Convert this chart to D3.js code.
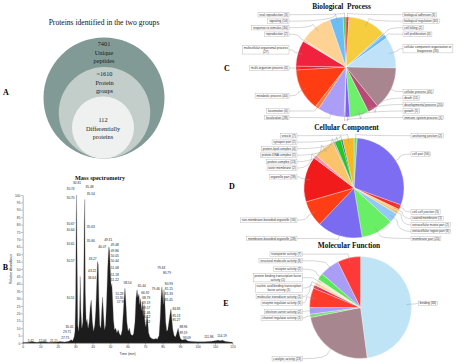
<!DOCTYPE html>
<html>
<head>
<meta charset="utf-8">
<script src="https://cdn.jsdelivr.net/npm/d3@7"></script>
<style>
  body { margin: 0; background: #fff; }
  svg { display: block; }
</style>
</head>
<body>
<script>
// ---------- data ----------
const vennCounts = ["7401", "~1610", "112"];
const vennNames = [["Unique", "peptides"], ["Protein", "groups"], ["Differentially", "proteins"]];

// chromatogram trace: [time (min), relative abundance]
const msTrace = [
  [0,0.4],[3,0.5],[5.4,0.9],[8,0.5],[12,0.9],[15,0.5],[20,0.6],[21.1,1],[24,0.7],[26.5,1.2],
  [27.7,2.2],[28.6,1.5],[29.4,4],[29.9,8],[30.3,30],[30.6,85],[30.8,100],[31.1,60],[31.5,12],[32,8],
  [32.5,18],[32.9,45],[33.3,22],[33.8,10],[34.4,14],[34.9,40],[35.2,80],[35.5,97],[35.8,35],[36.3,14],
  [36.8,16],[37.4,10],[38,14],[38.6,24],[39.2,29],[39.8,15],[40.5,8],[41.2,12],[41.8,22],[42.4,42],
  [42.8,55],[43.2,53],[43.6,28],[44.1,12],[44.7,10],[45.2,22],[45.7,31],[46.2,20],[46.8,9],[47.4,12],
  [48,28],[48.6,50],[49,60],[49.3,65],[49.7,62],[50.1,50],[50.6,38],[51,40],[51.4,30],[51.9,16],
  [52.5,9],[53.2,10],[53.9,7],[54.6,9],[55.4,6],[56.2,5],[56.9,9],[57.5,20],[58,30],[58.5,37],
  [59,28],[59.6,14],[60.3,8],[61,10],[61.8,6],[62.6,5],[63.4,6],[64.2,14],[64.8,30],[65.4,36],
  [65.9,31],[66.5,33],[66.9,26],[67.4,30],[67.9,22],[68.4,28],[68.9,18],[69.4,26],[69.9,14],[70.5,11],
  [71.1,19],[71.5,15],[72,7],[72.8,4],[73.8,3],[75,2.5],[76.1,3],[77,2.5],[78,5],[78.6,16],
  [79.1,30],[79.6,38],[80,33],[80.4,26],[80.8,36],[81.3,28],[81.8,14],[82.4,8],[83,9],[83.6,14],
  [84.2,19],[84.8,23],[85.3,16],[85.9,9],[86.6,5],[87.4,4],[88.2,7],[88.9,10],[89.5,6],[90.2,3],
  [91.2,2],[93,2.6],[94.5,1.4],[97,1],[100,0.8],[104,0.9],[108,1.1],[111.9,1.8],[113,1.5],[114.2,1.9],
  [116,1],[120,0.5]
];

// peak labels: [text, time anchor, abundance anchor]
const peakLabels = [
  ["30.81",31.1,108],["30.74",27.4,104],["30.70",27.4,98],["30.67",27.4,80.4],["30.64",27.4,76.4],
  ["30.61",27.4,66.9],["30.57",27.4,55.4],["30.51",27.4,30.4],["30.41",26.8,10.8],["29.71",25.4,7.4],
  ["27.75",24.3,3.4],["21.11",17.8,1.4],["12.06",11.4,1.4],["5.42",4.6,1.4],
  ["35.48",38.2,105.4],["35.54",38.9,100.7],["35.63",38.9,78.4],["35.66",38.9,68.9],
  ["43.27",40,56.8],["43.22",39.7,48.6],["36.64",39.6,43.9],["46.07",45.5,64.9],["49.31",48.9,69.6],
  ["49.48",52.7,66.2],["49.86",52.7,62.2],["50.05",52.7,58.8],["50.44",52.7,55.4],["51.08",52.7,50.7],
  ["51.18",52.7,45.9],["51.22",52.7,42.6],["51.28",55.3,33.1],["51.30",55.3,30.4],["57.99",56.2,27.7],
  ["58.54",59.9,40.5],["65.44",68.1,38.5],["66.92",70.1,33.8],["68.79",70.7,30.4],["69.19",70.7,27],
  ["69.57",70.7,23.6],["71.46",70.7,20.3],["76.12",70.7,17.6],["71.62",70.7,14.2],
  ["79.46",76.1,36.5],["79.63",79.3,50.7],["80.79",82.5,47.3],["80.93",83.6,39.9],["81.15",83.6,36.5],
  ["81.33",83.6,33.1],["81.45",83.6,29.1],["84.83",87.9,23],["85.13",87.9,18.2],["85.27",87.9,15.5],
  ["88.96",91.9,10.8],["89.19",91.9,6.8],["93.09",93.9,3.4],["111.86",106.5,4.1],["114.19",114,4.7]
];
const timeTicks = [0,10,20,30,40,50,60,70,80,90,100,110,120];
const abundTicks = [0,5,10,15,20,25,30,35,40,45,50,55,60,65,70,75,80,85,90,95,100];

const bpNames = ["biological adhesion","biological regulation","cell killing","cell proliferation",
  "cellular component organization or biogenesis","cellular process","death","developmental process",
  "growth","immune system process","localization","locomotion","metabolic process",
  "multi-organism process","multicellular organismal process","reproduction","response to stimulus",
  "signaling","viral reproduction"];
const bpValues = [3,40,2,4,33,45,11,20,5,1,28,4,44,4,27,2,34,14,3];

const ccNames = ["anchoring junction","cell part","cell-cell junction","coated membrane",
  "extracellular matrix part","extracellular region part","membrane part","membrane-bounded organelle",
  "non-membrane-bounded organelle","organelle part","outer membrane","protein complex",
  "protein-DNA complex","protein-lipid complex","synapse part","vesicle"];
const ccValues = [2,56,3,1,2,6,20,28,16,28,2,13,1,4,1,7];

const mfNames = ["binding","catalytic activity","channel regulator activity","electron carrier activity",
  "enzyme regulator activity","molecular transducer activity",
  "nucleic acid binding transcription factor activity","protein binding transcription factor activity",
  "receptor activity","structural molecule activity","transporter activity"];
const mfValues = [46,23,1,2,6,1,1,1,2,6,7];

// ---------- styles ----------
const bpColors = ["#ec2a2a","#f6cd3e","#8fcaf2","#6cb8f2","#bfe2f8","#a8858f","#b74a76","#6ef06c",
  "#7a5ff0","#b3a3f5","#aa9ef6","#ff7a3a","#ff3c12","#ff1c1c","#f0223e","#ffd9a6","#fdd292","#6dbdf5","#56cf56"];
const ccColors = ["#80e080","#7c6df2","#f03030","#ffb347","#f7c87a","#92c9f7","#68ef66","#7a6bf0",
  "#ff3e16","#f21b1b","#ff90b2","#fbc46c","#aaaaaa","#20c820","#1f4c9e","#f7b824"];
const mfColors = ["#bfe4f6","#a8868f","#7ddf7d","#a99df5","#ff3c2c","#e0305a","#ffd7a0","#f3ecd8",
  "#58e858","#a99df5","#ff3838"];

const serif = "'Liberation Serif', 'Times New Roman', serif";
const sans = "'Liberation Sans', Arial, sans-serif";

const svg = d3.select("body").append("svg")
  .attr("width", 474).attr("height", 363)
  .style("font-family", sans);

// panel letters
const panelLetters = ["A","B","C","D","E"];
const letterPos = [[6,95],[5.5,270],[227,71],[232,189],[226,306]];
panelLetters.forEach((l,i) => {
  svg.append("text").attr("x", letterPos[i][0]).attr("y", letterPos[i][1])
    .attr("text-anchor","middle").attr("font-family", serif).attr("font-weight","bold")
    .attr("font-size", 8).text(l);
});

// ---------- A: nested circles ----------
svg.append("text").attr("x", 104).attr("y", 25).attr("text-anchor","middle")
  .attr("font-family", serif).attr("font-size", 7.6).attr("fill","#111")
  .text("Proteins identified in the two groups");

const rScale = d3.scaleLinear().domain([0, 2]).range([60.5, 31]);
const vennColors = ["#819a95", "#c3cdca", "#eff1f0"];
const vennX = [104, 104.5, 103];
const vennBottom = 158.5;
vennCounts.forEach((c, i) => {
  svg.append("circle").attr("cx", vennX[i]).attr("cy", vennBottom - rScale(i))
    .attr("r", rScale(i)).attr("fill", vennColors[i]);
});
vennCounts.forEach((c, i) => {
  const top = vennBottom - 2 * rScale(i);
  const mid = i < vennCounts.length - 1 ? (top + vennBottom - 2 * rScale(i + 1)) / 2 : vennBottom - rScale(i) + 0.5;
  const lines = [c].concat(vennNames[i]);
  const offs = [-8.5, 0.5, 8.7];
  lines.forEach((t, k) => {
    svg.append("text").attr("x", vennX[i]).attr("y", mid + offs[k])
      .attr("text-anchor","middle").attr("dominant-baseline","central")
      .attr("font-family", serif).attr("font-size", 6.3).attr("fill","#1a1a1a").text(t);
  });
});

// ---------- B: mass spectrometry ----------
svg.append("text").attr("x", 100).attr("y", 180).attr("text-anchor","middle")
  .attr("font-family", serif).attr("font-weight","bold").attr("font-size", 6.2).attr("fill","#111")
  .text("Mass spectrometry");

const x = d3.scaleLinear().domain([0, 120]).range([22.7, 232.5]);
const y = d3.scaleLinear().domain([0, 100]).range([343, 195]);

svg.append("path").datum(msTrace)
  .attr("d", d3.area().x(d => x(d[0])).y0(y(0)).y1(d => y(d[1])))
  .attr("fill", "#1c1c1c").attr("stroke", "#666").attr("stroke-width", 0.3);

function styleAxis(g) {
  g.attr("font-size", 3.2).attr("font-family", sans);
  g.selectAll("path, line").attr("stroke", "#444").attr("stroke-width", 0.4);
  g.selectAll("text").attr("fill", "#333");
}
svg.append("g").attr("transform", `translate(0,${y(0)})`)
  .call(d3.axisBottom(x).tickValues(timeTicks).tickSize(1.8).tickPadding(1.2).tickSizeOuter(0))
  .call(styleAxis);
svg.append("g").attr("transform", `translate(${x(0)},0)`)
  .call(d3.axisLeft(y).tickValues(abundTicks).tickSize(1.5).tickPadding(0.8).tickSizeOuter(0))
  .call(styleAxis);

svg.append("text").attr("x", x(60)).attr("y", 355).attr("text-anchor","middle")
  .attr("font-size", 3.4).attr("fill","#333").text("Time (min)");
svg.append("text").attr("transform", `translate(12,${y(50)}) rotate(-90)`).attr("text-anchor","middle")
  .attr("font-size", 3.4).attr("fill","#333").text("Relative Abundance");

svg.append("g").selectAll("text").data(peakLabels).join("text")
  .attr("x", d => x(d[1])).attr("y", d => y(d[2]))
  .attr("text-anchor","middle").attr("dominant-baseline","central")
  .attr("font-size", 3.2).attr("fill","#222").text(d => d[0]);

// ---------- C/D/E: pies ----------
function wrap(str, maxChars) {
  const words = str.split(" ");
  const lines = [];
  let cur = "";
  words.forEach(w => {
    const next = cur ? cur + " " + w : w;
    if (next.length > maxChars && cur) { lines.push(cur); cur = w; } else cur = next;
  });
  lines.push(cur);
  return lines;
}

function drawPie(cx, cy, r, names, values, colors, title, titleX) {
  const g = svg.append("g");
  g.append("text").attr("x", titleX).attr("y", cy - r - 8.3).attr("text-anchor","middle")
    .attr("font-family", serif).attr("font-weight","bold").attr("font-size", 7.4)
    .style("white-space","pre").attr("fill","#111").text(title);

  const arcs = d3.pie().sort(null).value(d => d)(values);
  const arc = d3.arc().innerRadius(0).outerRadius(r);
  g.append("g").attr("transform", `translate(${cx},${cy})`)
    .selectAll("path").data(arcs).join("path")
    .attr("d", arc).attr("fill", (d, i) => colors[i])
    .attr("stroke", "#fff").attr("stroke-width", 0.3);

  const lh = 4;
  const items = arcs.map((a, i) => {
    const mid = (a.startAngle + a.endAngle) / 2;
    const lines = wrap(`${names[i]} (${values[i]})`, 36);
    return { mid, lines, right: mid < Math.PI * 1.03, h: lines.length * lh + 0.5,
             want: cy - Math.cos(mid) * (r + 12) };
  });
  const top = cy - r - 2.3, bot = cy + r + 0.5;
  [true, false].forEach(side => {
    const s = items.filter(d => d.right === side).sort((a, b) => a.want - b.want);
    s.forEach((d, k) => {
      d.y = Math.max(d.want, top + (d.h - 4.5) / 2);
      if (k) d.y = Math.max(d.y, s[k - 1].y + (s[k - 1].h + d.h) / 2 + 2);
    });
    for (let k = s.length - 1; k >= 0; k--) {
      const lim = k === s.length - 1 ? bot - (s[k].h - 4.5) / 2
        : s[k + 1].y - (s[k + 1].h + s[k].h) / 2 - 2;
      s[k].y = Math.min(s[k].y, lim);
    }
  });

  const lab = g.append("g");
  items.forEach(d => {
    const lg = lab.append("g");
    const rect = lg.append("rect");
    const t = lg.append("text").attr("font-size", 3.1).attr("fill", "#333").attr("text-anchor", "middle");
    d.lines.forEach((ln, k) => {
      t.append("tspan").attr("x", 0).attr("y", (k - (d.lines.length - 1) / 2) * lh)
        .attr("dominant-baseline", "central").text(ln);
    });
    let w = 0;
    t.selectAll("tspan").each(function () { w = Math.max(w, this.getComputedTextLength()); });
    const bw = w + 2.6;
    const edge = d.right ? cx + r + 7 : cx - r - 7;
    const bx = d.right ? edge : edge - bw;
    t.attr("transform", `translate(${bx + bw / 2},${d.y})`);
    rect.attr("x", bx).attr("y", d.y - d.h / 2).attr("width", bw).attr("height", d.h)
      .attr("fill", "#fff").attr("stroke", "#a0a0a0").attr("stroke-width", 0.35);
    const ox = cx + Math.sin(d.mid) * (r + 4), oy = cy - Math.cos(d.mid) * (r + 4);
    const ex = cx + Math.sin(d.mid) * (r - 5), ey = cy - Math.cos(d.mid) * (r - 5);
    lab.insert("path", ":first-child")
      .attr("d", `M${edge},${d.y} Q${ox},${d.y} ${ox},${oy} L${ex},${ey}`)
      .attr("fill", "none").attr("stroke", "#9a9a9a").attr("stroke-width", 0.4);
  });
}

drawPie(346, 67, 50, bpNames, bpValues, bpColors, "Biological  Process", 341.5);
drawPie(354, 188, 50, ccNames, ccValues, ccColors, "Cellular Component", 346.5);
drawPie(360.5, 307.5, 51, mfNames, mfValues, mfColors, "Molecular Function", 349);
</script>
</body>
</html>
